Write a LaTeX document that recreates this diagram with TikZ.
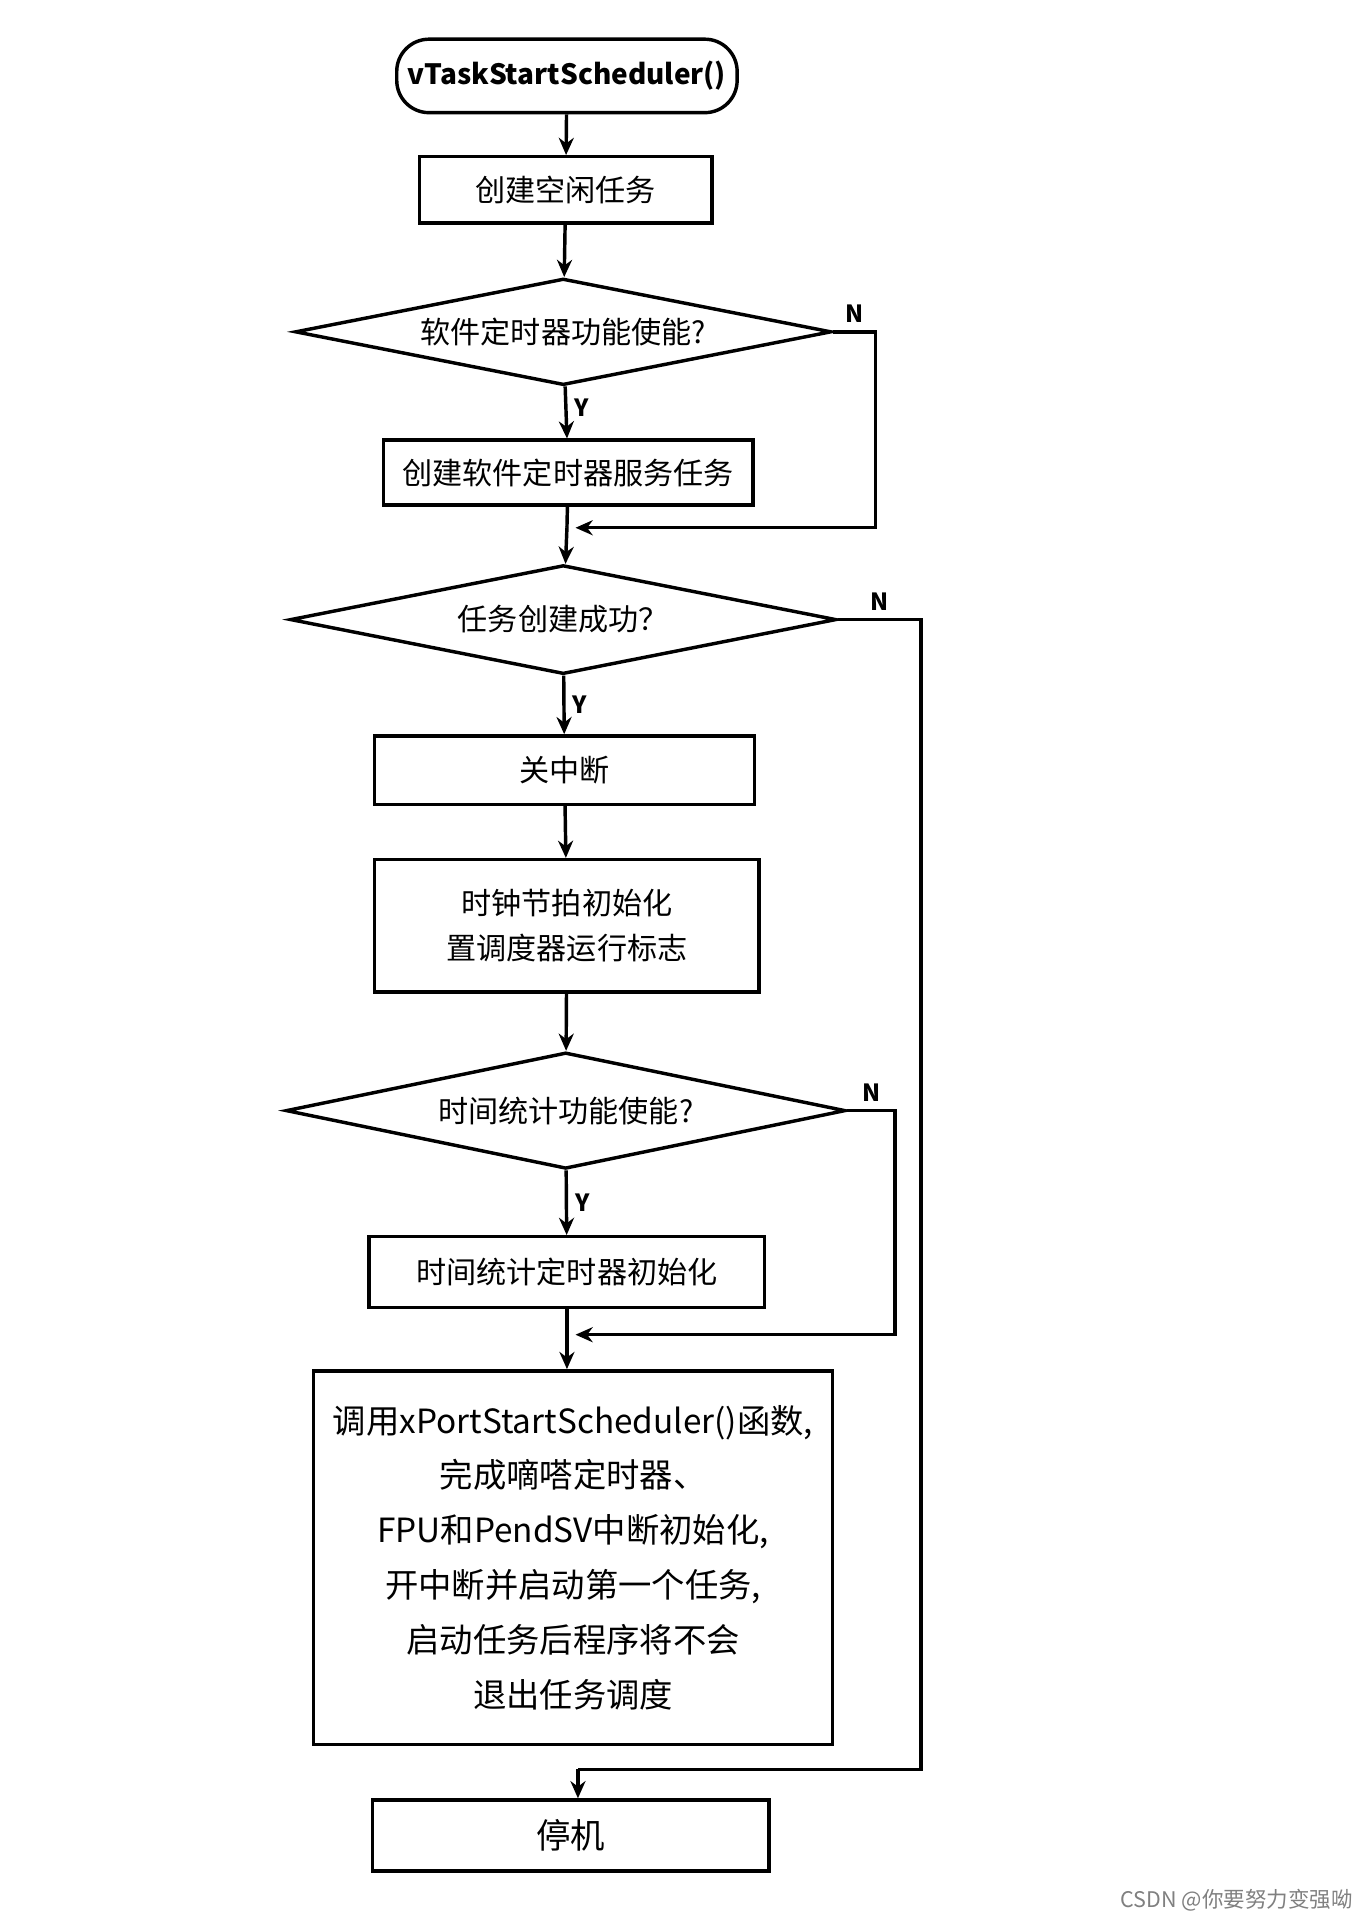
\documentclass[tikz,border=0pt]{standalone}
\usepackage{fontspec}
\setmainfont{Noto Sans CJK SC}
\usetikzlibrary{shapes.geometric,arrows.meta}
\begin{document}
\begin{tikzpicture}[x=0.02cm,y=-0.02cm,
  line width=1.6pt,
  every node/.style={font=\fontsize{14}{17}\selectfont},
  box/.style={draw,rectangle,inner sep=0pt},
  arr/.style={-{Stealth[length=8pt,width=7pt]}},
  lab/.style={font=\fontsize{11}{13}\selectfont\bfseries}]
\useasboundingbox (0,0) rectangle (1109,1568);
\node[draw,rounded corners=15pt,minimum width=278*0.02cm,minimum height=60*0.02cm,font=\fontsize{13}{16}\selectfont\bfseries] (s) at (463,62) {vTaskStartScheduler()};
\node[box,minimum width=239*0.02cm,minimum height=54*0.02cm] (b1) at (462,155) {创建空闲任务};
\node[draw,diamond,aspect=5,minimum width=438*0.02cm,minimum height=87*0.02cm,inner sep=0pt] (d1) at (460,271) {软件定时器功能使能?};
\node[box,minimum width=302*0.02cm,minimum height=53*0.02cm] (b2) at (464,386) {创建软件定时器服务任务};
\node[draw,diamond,aspect=5,minimum width=446*0.02cm,minimum height=89*0.02cm,inner sep=0pt] (d2) at (460,506) {任务创建成功？};
\node[box,minimum width=310*0.02cm,minimum height=56*0.02cm] (b3) at (461,629) {关中断};
\node[box,minimum width=314*0.02cm,minimum height=108*0.02cm,align=center,font=\fontsize{14}{21}\selectfont] (b4) at (463,756) {时钟节拍初始化\\置调度器运行标志};
\node[draw,diamond,aspect=5,minimum width=457*0.02cm,minimum height=95*0.02cm,inner sep=0pt] (d3) at (462,907) {时间统计功能使能?};
\node[box,minimum width=323*0.02cm,minimum height=58*0.02cm] (b5) at (463,1039) {时间统计定时器初始化};
\node[box,minimum width=424*0.02cm,minimum height=305*0.02cm,align=center,font=\fontsize{15.5}{25.5}\selectfont] (b6) at (468,1272) {调用xPortStartScheduler()函数,\\完成嘀嗒定时器、\\FPU和PendSV中断初始化,\\开中断并启动第一个任务,\\启动任务后程序将不会\\退出任务调度};
\node[box,minimum width=324*0.02cm,minimum height=58*0.02cm,font=\fontsize{16}{19}\selectfont] (b7) at (466,1499) {停机};
\node[font=\fontsize{10}{12}\selectfont,text=gray] (ft) at (1010,1552) {CSDN @你要努力变强呦};
\coordinate (m1) at (463,431);
\coordinate (m1r) at (715,271);
\coordinate (m1b) at (715,431);
\coordinate (m1e) at (470,431);
\coordinate (m2r) at (752,506);
\coordinate (m2b) at (752,1445);
\coordinate (m2e) at (472,1445);
\coordinate (m3) at (463,1090);
\coordinate (m3r) at (731,907);
\coordinate (m3b) at (731,1090);
\coordinate (m3e) at (470,1090);
\draw[arr] (s) -- (b1);
\draw[arr] (b1) -- (d1);
\draw[arr] (d1) -- node[lab,right,pos=0.4]{Y} (b2);
\draw (b2) -- (m1);
\draw[arr] (m1) -- (d2);
\draw[arr] (d1.east) -- (m1r) node[lab,above,pos=0.5]{N} -- (m1b) -- (m1e);
\draw[arr] (d2) -- node[lab,right]{Y} (b3);
\draw[arr] (b3) -- (b4);
\draw[arr] (b4) -- (d3);
\draw[arr] (d3) -- node[lab,right]{Y} (b5);
\draw (b5.south-|m3) -- (m3);
\draw[arr] (m3) -- (b6.north-|m3);
\draw[arr] (d3.east) -- (m3r) node[lab,above,pos=0.5]{N} -- (m3b) -- (m3e);
\draw (d2.east) -- (m2r) node[lab,above,pos=0.5]{N} -- (m2b) -- (m2e);
\draw[arr] (m2e) -- (b7.north-|m2e);
\end{tikzpicture}
\end{document}
